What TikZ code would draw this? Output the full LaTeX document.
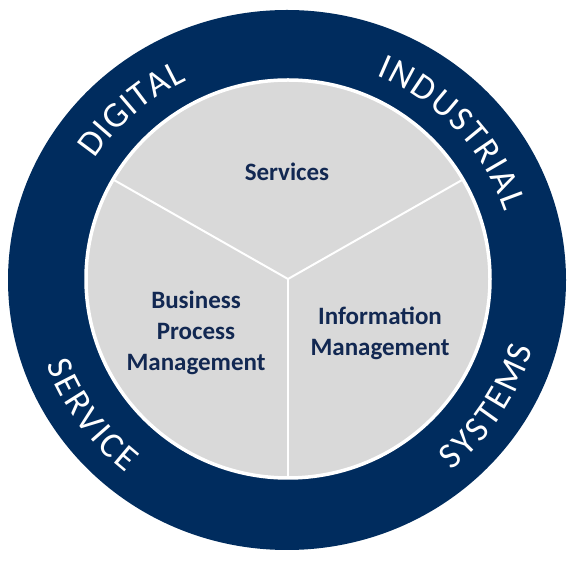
\documentclass[tikz,border=0pt]{standalone}
\usepackage{fontspec}
\setmainfont{Carlito}
\usetikzlibrary{calc,decorations.text}

\definecolor{ringnavy}{RGB}{0,44,94}
\definecolor{labelnavy}{RGB}{18,40,82}
\definecolor{segmentgray}{RGB}{217,217,217}
\newcommand{\ringfont}{\fontsize{36}{36}\selectfont\color{white}}

\begin{document}
\begin{tikzpicture}[x=1pt,y=1pt,
    ringtext/.style={decorate,decoration={text along path,text={|\ringfont|#1},text align={fit to path}}},
    seglabel/.style={align=center,text=labelnavy,font=\bfseries\fontsize{25}{31}\selectfont},
    divider/.style={white,line width=2pt}]
    \useasboundingbox (0,0) rectangle (576,562);
    \coordinate (c) at (287,282);
    \coordinate (hub) at (288,283);

    % ring and inner disk
    \fill[ringnavy] (c) ellipse[x radius=279,y radius=270];
    \filldraw[fill=segmentgray,draw=white,line width=3.5pt] (hub) ellipse[x radius=202,y radius=199];

    % three segments
    \coordinate (rimA) at ($(hub)+(150:201 and 198)$);
    \coordinate (rimB) at ($(hub)+(30:201 and 198)$);
    \coordinate (rimC) at ($(hub)+(270:201 and 198)$);
    \draw[divider] (hub) -- (rimA);
    \draw[divider] (hub) -- (rimB);
    \draw[divider] (hub) -- (rimC);

    \node[seglabel] (services) at (287,390) {Services};
    \node[seglabel] (bpm) at (196,229) {Business\\Process\\Management};
    \node[seglabel] (infom) at (380,229) {Information\\Management};

    % words round the ring
    \path[shift={(c)},ringtext={DIGITAL}] (147:229 and 222) arc[start angle=147,end angle=116,x radius=229,y radius=222];
    \path[shift={(c)},ringtext={INDUSTRIAL}] (67:229 and 222) arc[start angle=67,end angle=18,x radius=229,y radius=222];
    \path[shift={(c)},ringtext={SERVICE}] (200:256 and 248) arc[start angle=200,end angle=231,x radius=256,y radius=248];
    \path[shift={(c)},ringtext={SYSTEMS}] (310:256 and 248) arc[start angle=310,end angle=344,x radius=256,y radius=248];
\end{tikzpicture}
\end{document}
